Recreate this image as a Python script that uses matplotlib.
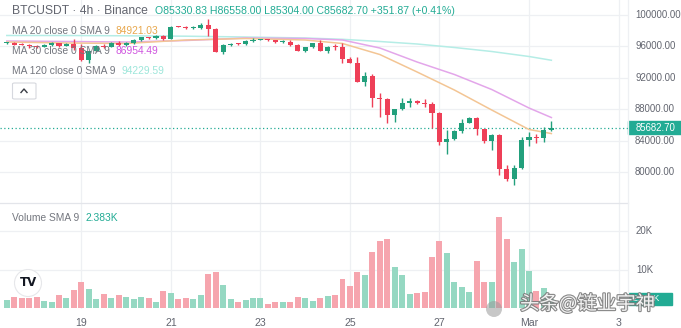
import matplotlib
matplotlib.use("Agg")
import matplotlib.pyplot as plt
import matplotlib.transforms as mtransforms
import matplotlib.patheffects as pe
from matplotlib import font_manager as fm
from matplotlib.patches import FancyBboxPatch, Circle, Rectangle
from matplotlib.lines import Line2D
import numpy as np

# ---------------- data: BTCUSDT 4h candles (Feb 17 08:00 -> Mar 1 12:00) ----------------
opens = [96420, 96480, 96230, 96200, 96000, 95900, 96200, 96380, 96100, 96300,
         95800, 94260, 95400, 96040, 95950, 96420, 96170, 96420, 96800, 97120,
         97020, 97310, 96990, 98490, 98430, 98330, 98350, 98770, 98200, 95320,
         96230, 96250, 96240, 96680, 96860, 96900, 96820, 96510, 96580, 96170,
         95440, 95870, 96380, 95440, 95950, 95910, 94390, 93940, 91500, 92230,
         89400, 89310, 87280, 88000, 88760, 89020, 88760, 88690, 87570, 83880,
         84230, 85280, 86300, 86860, 85460, 84010, 84740, 80380, 79110, 80510,
         84100, 84450, 84380, 85330.83]
highs = [96610, 96560, 96390, 96350, 96150, 96300, 96500, 96450, 96480, 96900,
         96300, 95400, 96170, 96300, 96600, 96680, 96560, 96930, 97240, 97240,
         97440, 97440, 98580, 98640, 98580, 98580, 98900, 99530, 98330, 96300,
         96480, 96420, 96740, 97050, 96990, 96950, 96860, 96800, 96740, 96290,
         95910, 96480, 96800, 96040, 96250, 96380, 94680, 94600, 92700, 92480,
         90030, 89440, 88040, 89400, 89470, 89120, 89270, 88880, 87660, 85370,
         85370, 86730, 87060, 86960, 85560, 84860, 84860, 80930, 80930, 84450,
         85160, 84860, 85790, 86558.00]
lows = [96290, 96180, 96120, 95800, 95800, 95850, 96100, 95950, 96050, 95500,
        94130, 93920, 95280, 95800, 95900, 96000, 96050, 96290, 96680, 96930,
        96930, 96860, 96930, 98390, 98260, 98260, 98260, 97360, 95280, 94990,
        96100, 96170, 96170, 96610, 96740, 96700, 96440, 96360, 96100, 95400,
        95340, 95740, 95400, 95190, 95530, 93920, 93840, 91470, 91000, 88330,
        87060, 86220, 86350, 87910, 88330, 88670, 88330, 85580, 83470, 82320,
        84040, 84950, 86220, 84740, 83680, 82830, 79660, 78930, 78390, 80420,
        83340, 83760, 83880, 85304.00]
closes = [96480, 96230, 96200, 96000, 95900, 96200, 96380, 96100, 96300, 95800,
          94260, 95400, 96040, 95950, 96420, 96170, 96420, 96800, 97120, 97020,
          97310, 96990, 98490, 98430, 98330, 98350, 98770, 98200, 95320, 96230,
          96250, 96240, 96680, 96860, 96900, 96820, 96510, 96580, 96170, 95440,
          95870, 96380, 95440, 95950, 95910, 94390, 93940, 91500, 92230, 89400,
          89310, 87280, 88000, 88760, 89020, 88760, 88690, 87570, 83880, 84230,
          85280, 86300, 86860, 85460, 84010, 84740, 80380, 79110, 80510, 84100,
          84450, 84380, 85330.83, 85682.70]
volumes_k = [2.05, 2.9, 2.5, 2.5, 2.9, 1.8, 1.6, 3.3, 2.5, 4.6,
             6.9, 4.9, 2.3, 3.6, 2.5, 3.5, 3.0, 2.3, 2.9, 2.5,
             1.6, 4.4, 4.0, 2.3, 2.5, 2.3, 3.5, 8.9, 9.5, 6.1,
             2.3, 1.5, 2.2, 2.5, 2.5, 1.0, 1.5, 1.5, 1.5, 2.9,
             2.7, 1.9, 2.7, 3.2, 3.3, 7.6, 5.7, 9.3, 8.6, 14.6,
             17.6, 18.0, 10.6, 8.5, 3.6, 4.0, 4.2, 13.2, 17.6, 14.4,
             6.9, 5.5, 4.2, 12.3, 6.8, 6.9, 23.8, 17.9, 11.9, 15.5,
             9.7, 4.4, 5.3, 2.383]

# moving averages (smoothed), sampled at candle indices
ma_idx = [0, 8, 16, 24, 32, 40, 45, 50, 55, 60, 65, 70, 73]
ma20 = [96548, 96421, 96358, 96802, 96993, 96802, 96358, 94960, 92738, 90450,
        87912, 85436, 84921.03]
ma30 = [96675, 96612, 96548, 96738, 97056, 96993, 96802, 95786, 94008, 92421,
        90516, 88166, 86954.49]
ma120 = [97374, 97374, 97335, 97285, 97183, 97056, 96891, 96612, 96294, 95850,
         95342, 94707, 94229.59]

price_ticks = [80000, 84000, 88000, 92000, 96000, 100000]
vol_ticks_k = [10, 20]
day_ticks = [10, 22, 34, 46, 58, 70, 82]
day_labels = ["19", "21", "23", "25", "27", "Mar", "3"]

# ---------------- styling ----------------
W, H, DPI = 681, 328, 100


def pick_font(names):
    for n in names:
        try:
            fm.findfont(fm.FontProperties(family=n), fallback_to_default=False)
            return n
        except Exception:
            pass
    return "DejaVu Sans"


UI = pick_font(["Liberation Sans", "Roboto"])
plt.rcParams["font.family"] = [UI, "DejaVu Sans"]

UP, DOWN = "#22a07c", "#ee3f57"
VUP, VDOWN = "#95d8c2", "#f6a5ae"
GRID = "#eef0f3"
TXT = "#62656f"
LBL = "#74777f"
TEAL = "#22ab94"
FS_AX = 6.9   # price / volume scale labels
FS_LG = 7.4   # legend rows


def fx(px):
    return px / W


def fy(py):
    return 1 - py / H


fig = plt.figure(figsize=(W / DPI, H / DPI), dpi=DPI, facecolor="white")
ax_p = fig.add_axes([0, fy(203), fx(628), 203 / H])
ax_v = fig.add_axes([0, fy(309), fx(628), 106 / H], sharex=ax_p)

step = 7.46
x0 = 6.8
xlim = (-x0 / step, (628 - x0) / step)
x = np.arange(len(opens))
o = np.array(opens, float)
h = np.array(highs, float)
l = np.array(lows, float)
c = np.array(closes, float)
v = np.array(volumes_k, float)
up = c >= o

for ax in (ax_p, ax_v):
    ax.set_facecolor("white")
    for s in ax.spines.values():
        s.set_visible(False)
    ax.tick_params(left=False, right=False, labelleft=False, bottom=False, labelbottom=False)
    for d in day_ticks:
        ax.axvline(d, color=GRID, lw=0.9, zorder=0)

ax_p.set_xlim(*xlim)
ax_p.set_ylim(76101, 101882)
ax_v.set_ylim(-0.26, 27.42)

for p in price_ticks:
    ax_p.axhline(p, color=GRID, lw=0.9, zorder=0)
for vt in vol_ticks_k:
    ax_v.axhline(vt, color=GRID, lw=0.9, zorder=0)

# pane separator and price-scale border
fig.add_artist(Line2D([0, fx(628)], [fy(203), fy(203)], color="#e3e5ea", lw=0.9))
fig.add_artist(Line2D([fx(628), fx(628)], [fy(309), 1], color="#eef0f3", lw=0.9))

# moving averages
ax_p.plot(ma_idx, ma120, color="#b5ede6", lw=1.1, zorder=2)
ax_p.plot(ma_idx, ma30, color="#e3a6ea", lw=1.1, zorder=2)
ax_p.plot(ma_idx, ma20, color="#f3c594", lw=1.1, zorder=2)

# candles
colors = np.where(up, UP, DOWN)
ax_p.vlines(x, l, h, colors=colors, lw=1.0, zorder=3)
body_lo = np.minimum(o, c)
body_h = np.maximum(np.abs(c - o), 120)
ax_p.bar(x, body_h, bottom=body_lo, width=0.68, color=colors, linewidth=0, zorder=4)

# last price line + label
last = c[-1]
ax_p.axhline(last, color=TEAL, lw=0.9, ls=(0, (1, 2)), zorder=1)
bt = mtransforms.blended_transform_factory(ax_p.transAxes, ax_p.transData)
for p in price_ticks:
    ax_p.text(635 / 628, p, f"{p:.2f}", transform=bt, ha="left", va="center",
              fontsize=FS_AX, color=TXT, clip_on=False)
ax_p.add_patch(Rectangle((1.0, last - 127 * 6.8), 53 / 628, 127 * 13.6, transform=bt,
                         color=TEAL, clip_on=False, zorder=5))
ax_p.text(636 / 628, last, f"{last:.2f}", transform=bt, ha="left", va="center",
          fontsize=FS_AX, color="white", clip_on=False, zorder=6)

# volume
vcolors = np.where(up, VUP, VDOWN)
ax_v.bar(x, v, width=0.8, color=vcolors, linewidth=0, zorder=2)
vt_tr = mtransforms.blended_transform_factory(ax_v.transAxes, ax_v.transData)
for vt in vol_ticks_k:
    ax_v.text(636 / 628, vt, f"{vt}K", transform=vt_tr, ha="left", va="center",
              fontsize=FS_AX, color=TXT, clip_on=False)
ax_v.add_patch(Rectangle((1.0, v[-1] - 1.5), 44 / 628, 3.0, transform=vt_tr,
                         color=TEAL, clip_on=False, zorder=5))
ax_v.text(633 / 628, v[-1], f"{v[-1]:.3f}K", transform=vt_tr, ha="left", va="center",
          fontsize=6.2, color="white", clip_on=False, zorder=6)

# time axis
ax_v.set_xticks(day_ticks)
ax_v.set_xticklabels(day_labels)
ax_v.tick_params(bottom=False, labelbottom=True, pad=3, labelsize=7.6, labelcolor=TXT)

# legend block
fig.text(fx(12), fy(10.5), "BTCUSDT · 4h · Binance", ha="left", va="center",
         fontsize=8.7, color=TXT)
chg = c[-1] - o[-1]
pct = chg / o[-1] * 100
fig.text(fx(155), fy(10.5),
         f"O{o[-1]:.2f} H{h[-1]:.2f} L{l[-1]:.2f} C{c[-1]:.2f} {chg:+.2f} ({pct:+.2f}%)",
         ha="left", va="center", fontsize=7.6, color=TEAL)
legend_rows = [("MA 20 close 0 SMA 9", ma20[-1], "#e8a84e", 30.5, 115),
               ("MA 30 close 0 SMA 9", ma30[-1], "#cf55df", 50.5, 115),
               ("MA 120 close 0 SMA 9", ma120[-1], "#9de6da", 70.5, 121)]
for name, val, col, yy, xv in legend_rows:
    fig.text(fx(12), fy(yy), name, ha="left", va="center", fontsize=FS_LG, color=LBL)
    fig.text(fx(xv), fy(yy), f"{val:.2f}", ha="left", va="center", fontsize=FS_LG, color=col)

fig.add_artist(FancyBboxPatch((fx(12.5), fy(99)), fx(23.5), 16 / H,
                              boxstyle="round,pad=0,rounding_size=0.003",
                              facecolor="white", edgecolor="#d6d8de", lw=0.8,
                              transform=fig.transFigure))
fig.add_artist(Line2D([fx(21), fx(24), fx(27)], [fy(92.5), fy(89), fy(92.5)],
                      color="#3a3d45", lw=1.0))

fig.text(fx(12), fy(218), "Volume SMA 9", ha="left", va="center", fontsize=FS_LG, color=LBL)
fig.text(fx(85), fy(218), f"{v[-1]:.3f}K", ha="left", va="center", fontsize=FS_LG, color=TEAL)

# logo badge
ident = mtransforms.IdentityTransform()
fig.add_artist(Circle((28, H - 283), 13.5, transform=ident, facecolor="white",
                      edgecolor="#e6e7ea", lw=0.8, zorder=10))
fig.text(fx(28), fy(283), "TV", ha="center", va="center", fontsize=8.5,
         fontweight="bold", color="#131722", family="DejaVu Sans", zorder=11)

# watermark
fig.add_artist(Circle((494, H - 309), 8, transform=ident, facecolor="#9a9a9a",
                      edgecolor="none", alpha=0.55, zorder=10))
fig.text(fx(520), fy(304), "头条@链业宇神", ha="left", va="center", fontsize=14,
         color="white", alpha=0.9, family=["Noto Sans CJK SC", "DejaVu Sans"], zorder=12,
         path_effects=[pe.withStroke(linewidth=1.6, foreground="#7a7a7a")])

fig.savefig("out.png", dpi=DPI, facecolor="white")
